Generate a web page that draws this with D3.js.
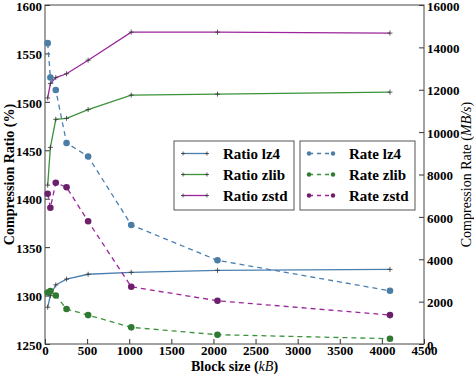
<!DOCTYPE html>
<meta charset="utf-8">
<style>
body { margin: 0; background: #fff; }
text { font-family: "Liberation Serif", "Times New Roman", serif; }
.tick text { font: bold 13px "Liberation Serif", serif !important; fill: #000; }
.leg { font-size: 15px; font-weight: bold; }
</style>
<body>
<script src="https://d3js.org/d3.v7.min.js"></script>
<script>
// block sizes in kB
const blockSizes = [32, 64, 128, 256, 512, 1024, 2048, 4096];

// compression ratio (%)
const ratioLz4  = [1288, 1300, 1311, 1317, 1322, 1324, 1326, 1327];
const ratioZlib = [1414, 1453, 1482, 1483, 1492, 1507, 1508, 1510];
const ratioZstd = [1504, 1519, 1525, 1529, 1543, 1572, 1572, 1571];

// compression rate (MB/s)
const rateLz4  = [14200, 12580, 11985, 9490, 8850, 5620, 3950, 2510];
const rateZlib = [2430, 2495, 2290, 1650, 1365, 785, 440, 250];
const rateZstd = [7090, 6430, 7610, 7400, 5790, 2700, 2040, 1365];

const xTicks = [0, 500, 1000, 1500, 2000, 2500, 3000, 3500, 4000, 4500];
const ratioTicks = [1250, 1300, 1350, 1400, 1450, 1500, 1550, 1600];
const rateTicks = [0, 2000, 4000, 6000, 8000, 10000, 12000, 14000, 16000];

const width = 474, height = 375,
      margin = {top: 5, right: 50, bottom: 31, left: 45};

const svg = d3.select("body").append("svg")
    .attr("width", width)
    .attr("height", height);

const x = d3.scaleLinear().domain([0, 4500]).range([margin.left, width - margin.right]);
const yL = d3.scaleLinear().domain([1250, 1600]).range([height - margin.bottom, margin.top]);
const yR = d3.scaleLinear().domain([0, 16000]).range([height - margin.bottom, margin.top]);

const blue = "#4a7fb0", green = "#3b933b", magenta = "#9c249c";
const blueDot = "#4a7ea6", greenDot = "#2f7a30", purpleDot = "#6c1f6c";

const ratioSeries = [
  {name: "Ratio lz4", vals: ratioLz4, color: blue},
  {name: "Ratio zlib", vals: ratioZlib, color: green},
  {name: "Ratio zstd", vals: ratioZstd, color: magenta}
];
const rateSeries = [
  {name: "Rate lz4", vals: rateLz4, color: blue, dot: blueDot},
  {name: "Rate zlib", vals: rateZlib, color: green, dot: greenDot},
  {name: "Rate zstd", vals: rateZstd, color: magenta, dot: purpleDot}
];

const fmt = d3.format("d");

// axes
const bottom = svg.append("g")
    .attr("transform", `translate(0,${height - margin.bottom})`)
    .call(d3.axisBottom(x).tickValues(xTicks).tickFormat(fmt).tickSizeInner(-5).tickSizeOuter(0).tickPadding(3));
const left = svg.append("g")
    .attr("transform", `translate(${margin.left},0)`)
    .call(d3.axisLeft(yL).tickValues(ratioTicks).tickFormat(fmt).tickSizeInner(-5).tickSizeOuter(0).tickPadding(3));
const right = svg.append("g")
    .attr("transform", `translate(${width - margin.right},0)`)
    .call(d3.axisRight(yR).tickValues(rateTicks).tickFormat(fmt).tickSizeInner(-5).tickSizeOuter(0).tickPadding(3));
[bottom, left, right].forEach(g => {
  g.attr("font-family", null).attr("font-size", null);
  g.select(".domain").remove();
  g.selectAll(".tick line").attr("stroke", "#333");
});
bottom.selectAll(".tick text").attr("dy", "0.6em");
left.selectAll(".tick text").attr("dy", "0.4em");
right.selectAll(".tick text").attr("dy", "0.4em");

// frame
svg.append("rect")
    .attr("x", margin.left).attr("y", margin.top)
    .attr("width", width - margin.left - margin.right)
    .attr("height", height - margin.top - margin.bottom)
    .attr("fill", "none").attr("stroke", "#444").attr("stroke-width", 1);

// ratio lines (solid, + markers)
ratioSeries.forEach(s => {
  const line = d3.line().x((d, i) => x(blockSizes[i])).y(d => yL(d));
  svg.append("path").datum(s.vals)
      .attr("d", line).attr("fill", "none")
      .attr("stroke", s.color).attr("stroke-width", 1.3);
  svg.append("g").selectAll("path").data(s.vals).join("path")
      .attr("d", (d, i) => {
        const cx = x(blockSizes[i]), cy = yL(d);
        return `M${cx - 2.5},${cy}H${cx + 2.5}M${cx},${cy - 2.5}V${cy + 2.5}`;
      })
      .attr("stroke", "#333").attr("stroke-width", 0.8);
});

// rate lines (dashed, circle markers)
rateSeries.forEach(s => {
  const line = d3.line().x((d, i) => x(blockSizes[i])).y(d => yR(d));
  svg.append("path").datum(s.vals)
      .attr("d", line).attr("fill", "none")
      .attr("stroke", s.color).attr("stroke-width", 1.3)
      .attr("stroke-dasharray", "5,4");
  svg.append("g").selectAll("circle").data(s.vals).join("circle")
      .attr("cx", (d, i) => x(blockSizes[i]))
      .attr("cy", d => yR(d))
      .attr("r", 3.3)
      .attr("fill", s.dot);
});

// legends
function legend(series, x0, dashed) {
  const g = svg.append("g").attr("transform", `translate(${x0},141)`);
  g.append("rect").attr("width", dashed ? 115 : 120).attr("height", 69)
      .attr("fill", "#fff").attr("stroke", "#555").attr("stroke-width", 1);
  series.forEach((s, i) => {
    const yy = 12.5 + i * 21;
    g.append("line").attr("x1", 9).attr("x2", 33).attr("y1", yy).attr("y2", yy)
        .attr("stroke", s.color).attr("stroke-width", 1.3)
        .attr("stroke-dasharray", dashed ? "4,4" : null);
    if (dashed) {
      [9, 33].forEach(cx => g.append("circle").attr("cx", cx).attr("cy", yy).attr("r", 2.2).attr("fill", s.dot));
    } else {
      [9, 33].forEach(cx => g.append("path")
          .attr("d", `M${cx - 2},${yy}H${cx + 2}M${cx},${yy - 2}V${yy + 2}`)
          .attr("stroke", "#333").attr("stroke-width", 0.8));
    }
    g.append("text").attr("class", "leg").attr("x", 49).attr("y", yy + 5)
        .text(s.name);
  });
}
legend(ratioSeries, 174, false);
legend(rateSeries, 300, true);

// axis titles
const bx = svg.append("text").attr("x", (margin.left + width - margin.right) / 2).attr("y", 371)
    .attr("text-anchor", "middle").style("font-size", "14px").style("font-weight", "bold");
bx.append("tspan").text("Block size (");
bx.append("tspan").style("font-style", "italic").style("font-weight", "normal").text("kB");
bx.append("tspan").text(")");

svg.append("text")
    .attr("transform", `translate(14,${(margin.top + height - margin.bottom) / 2}) rotate(-90)`)
    .attr("text-anchor", "middle").style("font-size", "14px").style("font-weight", "bold")
    .text("Compression Ratio (%)");

const ry = svg.append("text")
    .attr("transform", `translate(471,${(margin.top + height - margin.bottom) / 2}) rotate(-90)`)
    .attr("text-anchor", "middle").style("font-size", "14px");
ry.append("tspan").text("Compression Rate (");
ry.append("tspan").style("font-style", "italic").text("MB/s");
ry.append("tspan").text(")");
</script>
</body>
